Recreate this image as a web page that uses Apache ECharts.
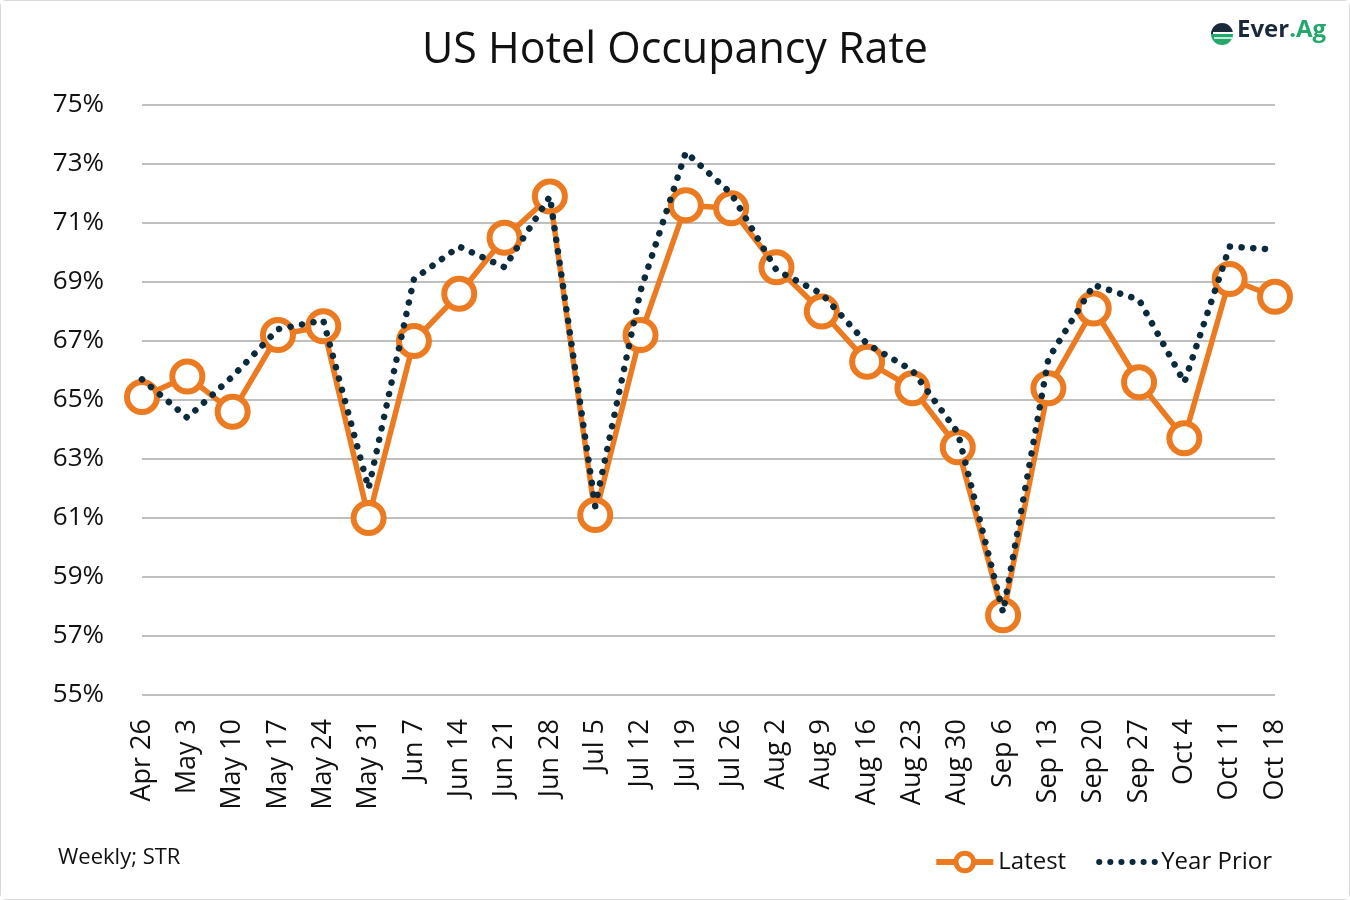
<!DOCTYPE html>
<html>
<head>
<meta charset="utf-8">
<script src="https://cdn.jsdelivr.net/npm/echarts@6/dist/echarts.min.js"></script>
<style>
    html, body { margin: 0; padding: 0; background: #fff; }
    #chart {
        width: 1348px;
        height: 898px;
        border: 1px solid #d9d9d9;
        border-radius: 6px;
    }
</style>
</head>
<body>
<div id="chart"></div>
<script>
const weeks = [
    "Apr 26", "May 3", "May 10", "May 17", "May 24", "May 31", "Jun 7",
    "Jun 14", "Jun 21", "Jun 28", "Jul 5", "Jul 12", "Jul 19", "Jul 26",
    "Aug 2", "Aug 9", "Aug 16", "Aug 23", "Aug 30", "Sep 6", "Sep 13",
    "Sep 20", "Sep 27", "Oct 4", "Oct 11", "Oct 18"
];

const latest = [
    65.1, 65.8, 64.6, 67.2, 67.5, 61.0, 67.0,
    68.6, 70.5, 71.9, 61.1, 67.2, 71.6, 71.5,
    69.5, 68.0, 66.3, 65.4, 63.4, 57.7, 65.4,
    68.1, 65.6, 63.7, 69.1, 68.5
];

const yearPrior = [
    65.7, 64.4, 65.8, 67.4, 67.7, 62.0, 69.1,
    70.2, 69.5, 71.9, 61.4, 68.7, 73.4, 72.0,
    69.4, 68.6, 66.9, 66.0, 63.9, 57.8, 66.4,
    68.9, 68.4, 65.6, 70.2, 70.1
];

const FONT = "'Open Sans', 'Noto Sans', sans-serif";
const ORANGE = "#EC7A20";
const NAVY = "#0B2A3C";

const chart = echarts.init(document.getElementById("chart"));

chart.setOption({
    animation: false,
    backgroundColor: "#fff",

    title: {
        text: "US Hotel Occupancy Rate",
        left: "center",
        top: 23,
        textStyle: {
            fontFamily: FONT,
            fontSize: 43,
            fontWeight: "normal",
            color: "#111"
        }
    },

    graphic: [
        {
            type: "sector",
            shape: { cx: 1221, cy: 33, r: 11, r0: 0, startAngle: Math.PI, endAngle: Math.PI * 2 },
            style: { fill: "#1B2A3A" }
        },
        {
            type: "sector",
            shape: { cx: 1221, cy: 33, r: 11, r0: 0, startAngle: 0, endAngle: Math.PI },
            style: { fill: "#22A86B" }
        },
        {
            type: "line",
            shape: { x1: 1212, y1: 32, x2: 1232, y2: 32 },
            style: { stroke: "#fff", lineWidth: 2 }
        },
        {
            type: "line",
            shape: { x1: 1213, y1: 37, x2: 1231, y2: 37 },
            style: { stroke: "#fff", lineWidth: 1.5 }
        },
        {
            type: "text",
            left: 1236,
            top: 17,
            style: {
                rich: {
                    a: { fontFamily: FONT, fontSize: 24, fontWeight: "bold", fill: "#1B2A3A" },
                    b: { fontFamily: FONT, fontSize: 24, fontWeight: "bold", fill: "#22A86B" }
                },
                text: "{a|Ever}{b|.Ag}"
            }
        },
        {
            type: "text",
            left: 57,
            top: 846,
            style: {
                text: "Weekly; STR",
                fontFamily: FONT,
                fontSize: 22,
                fill: "#111"
            }
        }
    ],

    legend: {
        right: 72,
        bottom: 20,
        itemWidth: 57,
        itemHeight: 22,
        itemGap: 30,
        textStyle: {
            fontFamily: FONT,
            fontSize: 24,
            color: "#111"
        },
        data: [
            {
                name: "Latest",
                itemStyle: { borderWidth: 5 },
                lineStyle: { width: 6 }
            },
            {
                name: "Year Prior",
                itemStyle: { opacity: 0 },
                lineStyle: { width: 6, type: [0.1, 11], cap: "round" }
            }
        ]
    },

    grid: {
        left: 141,
        right: 74,
        top: 104,
        bottom: 204
    },

    xAxis: {
        type: "category",
        data: weeks,
        boundaryGap: false,
        axisLine: { show: false },
        axisTick: { show: false },
        axisLabel: {
            rotate: 90,
            margin: 24,
            interval: 0,
            fontFamily: FONT,
            fontSize: 27,
            color: "#111"
        }
    },

    yAxis: {
        type: "value",
        min: 55,
        max: 75,
        interval: 2,
        axisLine: { show: false },
        axisTick: { show: false },
        axisLabel: {
            formatter: "{value}%",
            margin: 38,
            fontFamily: FONT,
            fontSize: 26,
            color: "#111"
        },
        splitLine: {
            lineStyle: { color: "#BFBFBF", width: 2 }
        }
    },

    series: [
        {
            name: "Year Prior",
            type: "line",
            data: yearPrior,
            symbol: "none",
            z: 3,
            color: NAVY,
            lineStyle: {
                color: NAVY,
                width: 6.5,
                type: [0.1, 11.6],
                cap: "round"
            }
        },
        {
            name: "Latest",
            type: "line",
            data: latest,
            symbol: "circle",
            symbolSize: 30,
            z: 2,
            color: ORANGE,
            lineStyle: { color: ORANGE, width: 5.5 },
            itemStyle: {
                color: "#fff",
                borderColor: ORANGE,
                borderWidth: 6
            }
        }
    ]
});
</script>
</body>
</html>
